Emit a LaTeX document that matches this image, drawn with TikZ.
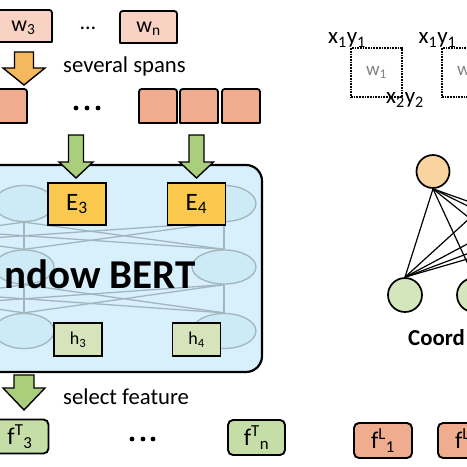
\documentclass[tikz,border=0pt]{standalone}
\usepackage{fontspec}
\setmainfont{Carlito}
\usetikzlibrary{shapes.geometric}
\definecolor{salmonL}{HTML}{F8D3C3}
\definecolor{salmon}{HTML}{F0AC8F}
\definecolor{gold}{HTML}{FBC84E}
\definecolor{arrorange}{HTML}{F6B85C}
\definecolor{arrgreen}{HTML}{A9CF7C}
\definecolor{hgreen}{HTML}{D6E4BC}
\definecolor{fgreen}{HTML}{C5DEA8}
\definecolor{bertblue}{HTML}{D7F0FB}
\definecolor{ellblue}{HTML}{CDEAF7}
\definecolor{netgray}{HTML}{A2B5BE}
\definecolor{orangeC}{HTML}{F9D4A1}
\definecolor{greenC}{HTML}{D3E6BC}
\pgfdeclarelayer{bg}
\pgfsetlayers{bg,main}
\newcommand\fs[1]{\fontsize{#1}{#1}\selectfont}
\newcommand\tabbox[5]{\draw[tabline, fill=#5] (#1,#4) -- (#1,#2+6) .. controls (#1,#2) .. (#1+6,#2) -- (#3-6,#2) .. controls (#3,#2) .. (#3,#2+6) -- (#3,#4) -- cycle;}
\newcommand\blkarrow[7]{\draw[arrline, fill=#7] (#1-#5,#2) -- (#1+#5,#2) -- (#1+#5,#3) -- (#1+#6,#3) -- (#1,#4) -- (#1-#6,#3) -- (#1-#5,#3) -- cycle;}
\begin{document}
\begin{tikzpicture}[x=1pt,y=-1pt,
  tabline/.style={line width=1.8, line join=round},
  arrline/.style={line width=1.4, line join=miter},
  lbl/.style={inner sep=0pt, font=\fs{22.7}},
  ebox/.style={draw, line width=1.9, fill=gold, minimum width=58, minimum height=42, inner sep=0pt, font=\fs{25}},
  hbox/.style={draw, line width=1.9, fill=hgreen, minimum width=48, minimum height=33, inner sep=0pt, font=\fs{18}},
  fbox/.style={draw, line width=1.9, rounded corners=5, minimum width=57, minimum height=34, inner sep=0pt, font=\fs{24}},
  dotbox/.style={draw, line width=1.7, densely dotted, minimum width=51, minimum height=49, inner sep=0pt, font=\fs{19}, text=gray},
  circ/.style={circle, draw, line width=1.7, minimum size=33, inner sep=0pt},
  ell/.style={ellipse, draw=netgray, line width=1.3, fill=ellblue, inner sep=0pt},
  netline/.style={draw=netgray, line width=1.3},
  gline/.style={draw=black, line width=1.2},
  cornerlbl/.style={inner sep=0pt, font=\fs{23}}
]
\useasboundingbox (0,0) rectangle (467,467);
\clip (0,0) rectangle (467,467);

% ---------- top rows ----------
\tabbox{-5}{10}{52}{42}{salmonL}
\tabbox{120}{11}{177}{43}{salmonL}
\node[lbl, font=\fs{22}] (w3) at (23.5,28) {w\textsubscript{3}};
\node[lbl, font=\fs{22}] (wn) at (148.5,29) {w\textsubscript{n}};
\node[lbl, font=\fs{22}] (dotsA) at (88,28) {…};

\blkarrow{24}{52}{68}{85}{9.5}{21}{arrorange}
\node[lbl, anchor=west] (sev) at (63,66) {several spans};

\tabbox{-11}{89}{27}{123}{salmon}
\tabbox{139}{89}{177}{123}{salmon}
\tabbox{180}{89}{218}{123}{salmon}
\tabbox{222}{89}{260}{123}{salmon}
\foreach \x in {76,87,98} \fill (\x,108) circle (2.4);

% ---------- BERT block ----------
\foreach \c/\x/\rx in {0/-176/30,1/24/30,2/224/32}{
  \node[ell, minimum width=2*\rx, minimum height=36] (p\c) at (\x,203.5) {};
  \node[ell, minimum width=2*\rx, minimum height=34] (q\c) at (\x,267) {};
  \node[ell, minimum width=2*\rx, minimum height=35] (r\c) at (\x,331) {};
}
\begin{pgfonlayer}{bg}
  \clip (0,0) rectangle (467,467);
  \draw[line width=2.2, fill=bertblue, rounded corners=16] (-140,165) rectangle (262,372);
  \foreach \a in {0,1,2}{\foreach \b in {0,1,2}{
    \draw[netline] (p\a.south) -- (q\b.north);
    \draw[netline] (q\a.south) -- (r\b.north);
  }}
\end{pgfonlayer}

\node[ebox] (E3) at (77,204) {E\textsubscript{3}};
\node[ebox] (E4) at (196.5,204) {E\textsubscript{4}};
\node[hbox] (h3) at (78,339.5) {h\textsubscript{3}};
\node[hbox] (h4) at (196.5,339.5) {h\textsubscript{4}};
\node[font=\bfseries\fs{41}, anchor=base east, inner sep=0pt] (bert) at (196,288) {ndow BERT};

\blkarrow{76}{135}{162}{178}{7.5}{17}{arrgreen}
\blkarrow{196.5}{135}{162}{178}{7.5}{17}{arrgreen}

% ---------- bottom ----------
\blkarrow{24}{375}{388}{410}{10}{21}{arrgreen}
\node[lbl, anchor=west] (sel) at (63,397) {select feature};
\node[fbox, fill=fgreen] (f3) at (20,436.5) {f\textsuperscript{T}\textsubscript{3}};
\foreach \x in {132,143,153} \fill (\x,439) circle (2.4);
\node[fbox, fill=fgreen, minimum height=35] (fn) at (256.5,437.5) {f\textsuperscript{T}\textsubscript{n}};
\node[fbox, fill=salmon, minimum width=58, minimum height=35] (fl1) at (383,440.5) {f\textsuperscript{L}\textsubscript{1}};
\node[fbox, fill=salmon, minimum width=58, minimum height=35] (fl2) at (467,440.5) {f\textsuperscript{L}\phantom{\textsubscript{2}}};

% ---------- coordinate boxes ----------
\node[dotbox] (b1) at (376.5,72.5) {w\textsubscript{1}};
\node[dotbox] (b2) at (467.5,72.5) {w\phantom{\textsubscript{2}}};
\node[cornerlbl] (c1) at (347,40) {x\textsubscript{1}y\textsubscript{1}};
\node[cornerlbl] (c2) at (405,100) {x\textsubscript{2}y\textsubscript{2}};
\node[cornerlbl] (c3) at (437.5,40) {x\textsubscript{1}y\textsubscript{1}};

% ---------- graph ----------
\foreach \k in {0,...,4}{
  \node[circ, fill=orangeC] (o\k) at (433+69*\k,171.5) {};
  \node[circ, fill=greenC, minimum size=34] (g\k) at (405+69*\k,295) {};
}
\begin{pgfonlayer}{bg}
  \clip (0,0) rectangle (467,467);
  \foreach \i in {0,...,4}{\foreach \j in {0,...,4}{
    \draw[gline] (o\i.south) -- (g\j.north);
  }}
\end{pgfonlayer}
\node[font=\bfseries\fs{22.8}, anchor=west, inner sep=0pt] (coord) at (408,338) {Coord};
\end{tikzpicture}
\end{document}
